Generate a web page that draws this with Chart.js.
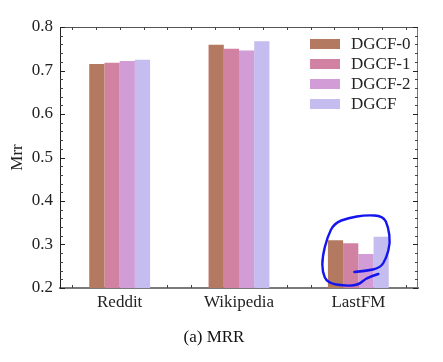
<!DOCTYPE html>
<html>
<head>
<meta charset="utf-8">
<script src="https://cdn.jsdelivr.net/npm/chart.js@4.4.1/dist/chart.umd.min.js"></script>
<style>
  html, body { margin: 0; padding: 0; background: #fff; }
  #wrap { width: 443px; height: 362px; position: relative; }
</style>
</head>
<body>
<div id="wrap"><canvas id="chart"></canvas></div>
<script>
// MRR per dataset for the DGCF ablation variants
const categories = ["Reddit", "Wikipedia", "LastFM"];
const seriesNames = ["DGCF-0", "DGCF-1", "DGCF-2", "DGCF"];
const dgcf0 = [0.715, 0.759, 0.310];
const dgcf1 = [0.718, 0.750, 0.303];
const dgcf2 = [0.722, 0.746, 0.278];
const dgcf = [0.725, 0.767, 0.318];
const yMin = 0.2;
const yMax = 0.8;
const caption = "(a) MRR";

const COLORS = ["#b47961", "#d181a1", "#d29cd6", "#c5bdef"];
const FONT = "'Liberation Serif', 'DejaVu Serif', serif";
const TEXT = "#222";

// hand-drawn blue loop around LastFM, offsets from (category centre, y=0.2)
const scribble = [
  [-4, -16], [7, -17], [22, -20], [28, -30], [32, -45], [30, -61], [25, -72],
  [7, -73], [-10, -70], [-24, -65], [-31, -51], [-36, -31], [-36, -16],
  [-31, -5], [-13, -2], [0, -3], [8, -10], [20, -14],
];

const frameTicks = {
  id: "frameTicks",
  beforeDatasetsDraw(chart) {
    const { ctx, chartArea: a, scales } = chart;
    const y = scales.y, x = scales.x;
    ctx.save();
    // top and right frame lines
    ctx.lineWidth = 1;
    ctx.strokeStyle = "#555";
    ctx.beginPath();
    ctx.moveTo(a.left, a.top + 0.5);
    ctx.lineTo(a.right, a.top + 0.5);
    ctx.stroke();
    ctx.strokeStyle = "#777";
    ctx.beginPath();
    ctx.moveTo(a.right - 0.5, a.top);
    ctx.lineTo(a.right - 0.5, a.bottom);
    ctx.stroke();
    // y ticks, inward, left and right
    for (let i = 0; i <= 30; i++) {
      const v = yMin + i * 0.02;
      const py = Math.round(y.getPixelForValue(v)) + 0.5;
      const major = i % 5 === 0;
      ctx.strokeStyle = major ? "#222" : "#444";
      ctx.beginPath();
      ctx.moveTo(a.left, py);
      ctx.lineTo(a.left + (major ? 5 : 3), py);
      ctx.moveTo(a.right, py);
      ctx.lineTo(a.right - (major ? 5 : 3), py);
      ctx.stroke();
    }
    // x ticks every 0.2 category, inward, top and bottom
    ctx.strokeStyle = "#444";
    for (let k = -2; k <= 12; k++) {
      const px = Math.round(x.getPixelForValue(k * 0.2)) + 0.5;
      ctx.beginPath();
      ctx.moveTo(px, a.top);
      ctx.lineTo(px, a.top + 3);
      ctx.moveTo(px, a.bottom);
      ctx.lineTo(px, a.bottom - 3);
      ctx.stroke();
    }
    ctx.restore();
  },
  afterDraw(chart) {
    const { ctx, scales } = chart;
    ctx.save();
    // legend inside the plot
    ctx.font = "17px " + FONT;
    ctx.textBaseline = "middle";
    seriesNames.forEach((name, i) => {
      const cy = 44 + i * 20;
      ctx.fillStyle = COLORS[i];
      ctx.fillRect(310, cy - 5, 30, 10);
      ctx.fillStyle = TEXT;
      ctx.fillText(name, 351, cy + 1);
    });
    // caption
    ctx.font = "17px " + FONT;
    ctx.textAlign = "center";
    ctx.fillStyle = "#111";
    ctx.fillText(caption, 214, 338);
    // blue scribble
    const cx = scales.x.getPixelForValue(2);
    const by = scales.y.getPixelForValue(yMin);
    const pts = scribble.map(([dx, dy]) => [cx + dx, by + dy]);
    ctx.strokeStyle = "#1414ee";
    ctx.lineWidth = 2.4;
    ctx.lineCap = "round";
    ctx.lineJoin = "round";
    ctx.beginPath();
    ctx.moveTo(pts[0][0], pts[0][1]);
    for (let i = 1; i < pts.length - 1; i++) {
      const mx = (pts[i][0] + pts[i + 1][0]) / 2;
      const my = (pts[i][1] + pts[i + 1][1]) / 2;
      ctx.quadraticCurveTo(pts[i][0], pts[i][1], mx, my);
    }
    const last = pts[pts.length - 1];
    ctx.lineTo(last[0], last[1]);
    ctx.stroke();
    ctx.restore();
  },
};

const seriesValues = [dgcf0, dgcf1, dgcf2, dgcf];

new Chart(document.getElementById("chart").getContext("2d"), {
  type: "bar",
  data: {
    labels: categories,
    datasets: seriesNames.map((name, i) => ({
      label: name,
      data: seriesValues[i],
      backgroundColor: COLORS[i],
      borderWidth: 0,
      categoryPercentage: 0.51,
      barPercentage: 1.0,
    })),
  },
  options: {
    responsive: true,
    maintainAspectRatio: false,
    animation: false,
    layout: { padding: { left: 0, right: 25, top: 27, bottom: 44 } },
    plugins: {
      legend: { display: false },
      tooltip: { enabled: false },
    },
    scales: {
      x: {
        grid: { display: false, drawTicks: false },
        border: { display: true, color: "#7a7a7a", width: 2 },
        ticks: { color: TEXT, font: { family: FONT, size: 17 }, padding: 4 },
        afterFit: (s) => { s.height = 30; },
      },
      y: {
        min: yMin,
        max: yMax,
        grid: { display: false, drawTicks: false },
        border: { display: true, color: "#222", width: 1 },
        ticks: {
          stepSize: 0.1,
          color: TEXT,
          font: { family: FONT, size: 17 },
          padding: 7,
          callback: (v) => v.toFixed(1),
        },
        title: {
          display: true,
          text: "Mrr",
          color: TEXT,
          font: { family: FONT, size: 17 },
          padding: { top: 7, bottom: 0 },
        },
        afterFit: (s) => { s.width = 60; },
      },
    },
  },
  plugins: [frameTicks],
});
</script>
</body>
</html>
